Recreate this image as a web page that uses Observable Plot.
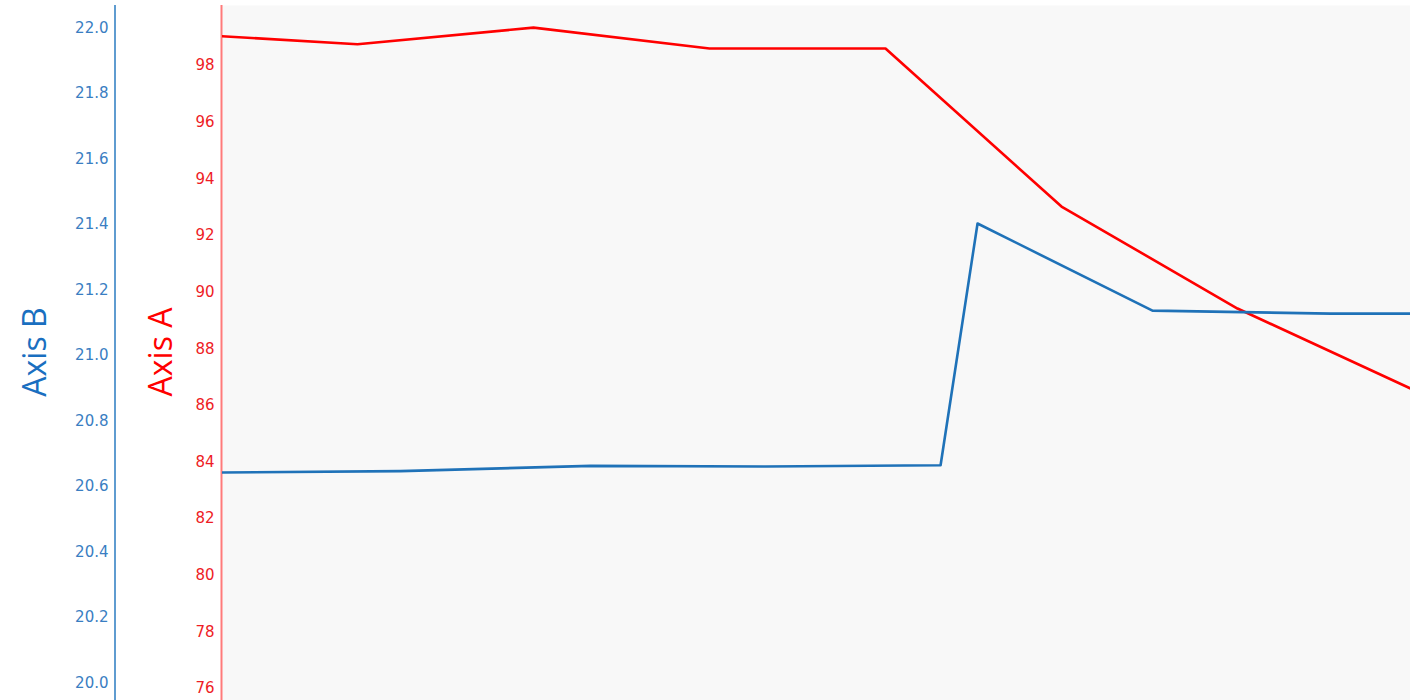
<!DOCTYPE html>
<html>
<head>
<meta charset="utf-8">
<script src="https://cdn.jsdelivr.net/npm/d3@7"></script>
<script src="https://cdn.jsdelivr.net/npm/@observablehq/plot@0.6"></script>
<style>
  html, body { margin: 0; padding: 0; background: #ffffff; }
  #chart svg { display: block; }
</style>
</head>
<body>
<div id="chart"></div>
<script>
// Series A (red, left inner axis "Axis A")
const seriesAX = [-1, 0, 1, 2, 3, 4, 5, 6];
const seriesAValues = [99.12, 98.75, 99.34, 98.60, 98.60, 93.02, 89.42, 86.55];

// Series B (blue, left outer axis "Axis B")
const seriesBX = [-1, 0.244, 1.324, 2.318, 3.313, 3.523, 4.517, 5.528, 6.523];
const seriesBValues = [20.642, 20.647, 20.663, 20.661, 20.665, 21.403, 21.137, 21.128, 21.128];

// Tick labels
const axisATicks = [76, 78, 80, 82, 84, 86, 88, 90, 92, 94, 96, 98];
const axisBTicks = [20.0, 20.2, 20.4, 20.6, 20.8, 21.0, 21.2, 21.4, 21.6, 21.8, 22.0];

// Visible domains
const xDomain = [-0.767, 5.983];
const axisADomain = [75.58, 100.12];
const axisBDomain = [19.9466, 22.0687];

const bToA = d3.scaleLinear().domain(axisBDomain).range(axisADomain);

const dataA = seriesAX.map((x, i) => ({x, v: seriesAValues[i]}));
const dataB = seriesBX.map((x, i) => ({x, v: seriesBValues[i]}));

const RED = "#ff0000";
const BLUE = "#1f72b8";

const chart = Plot.plot({
  width: 1410,
  height: 700,
  marginLeft: 222,
  marginRight: 0,
  marginTop: 5,
  marginBottom: 0,
  style: {fontFamily: "DejaVu Sans", background: "#ffffff"},
  x: {domain: xDomain, axis: null},
  y: {domain: axisADomain, axis: null},
  marks: [
    Plot.frame({fill: "#f8f8f8", stroke: null}),
    // Axis A (red)
    Plot.axisY({
      anchor: "left", ticks: axisATicks, tickSize: 0, tickPadding: 0, dx: -8, label: null,
      fill: "#ee1c25", fontSize: 15, fontFamily: "DejaVu Sans", tickFormat: d3.format("d")
    }),
    // Axis B (blue), mapped onto the A scale
    Plot.axisY(axisBTicks.map(bToA), {
      anchor: "left", tickSize: 0, tickPadding: 0, dx: -114, label: null,
      fill: "#3a7ec2", fontSize: 15, fontFamily: "DejaVu Sans",
      tickFormat: (d) => d3.format(".1f")(bToA.invert(d))
    }),
    Plot.ruleX([xDomain[0]], {stroke: "#ff7a7a", strokeWidth: 2, dx: -1}),
    Plot.ruleX([xDomain[0]], {stroke: "#2a7bc0", strokeWidth: 1.5, dx: -107.5}),
    Plot.line(dataA, {x: "x", y: "v", stroke: RED, strokeWidth: 2.6, clip: true}),
    Plot.line(dataB, {x: "x", y: (d) => bToA(d.v), stroke: BLUE, strokeWidth: 2.6, clip: true}),
    Plot.text(["Axis B"], {frameAnchor: "left", textAnchor: "middle", lineAnchor: "middle", rotate: -90, dx: -187, dy: -1, fontSize: 32, fontFamily: "Open Sans", fill: "#1a6fc0"}),
    Plot.text(["Axis A"], {frameAnchor: "left", textAnchor: "middle", lineAnchor: "middle", rotate: -90, dx: -61, dy: -1, fontSize: 32, fontFamily: "Open Sans", fill: RED})
  ]
});

document.getElementById("chart").appendChild(chart);
</script>
</body>
</html>
